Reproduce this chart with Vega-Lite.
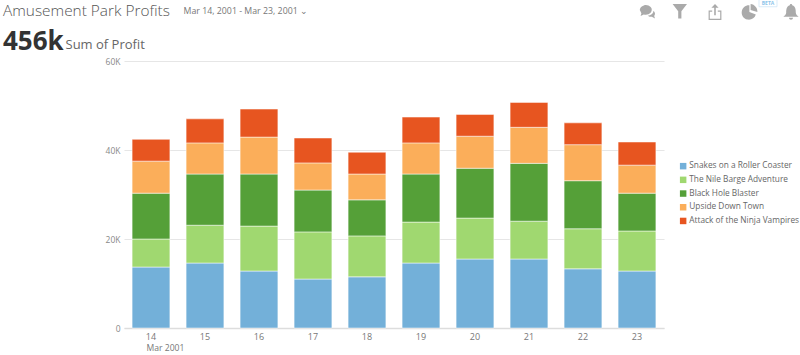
{
"$schema":"https://vega.github.io/schema/vega-lite/v6.json",
"width":540,"height":267,
"autosize":{"type":"none"},
"padding":{"left":124,"top":61,"right":136,"bottom":27},
"background":"white",
"config":{"font":"Open Sans","view":{"stroke":null}},
"title":{"text":"Amusement Park Profits","subtitle":"456k","anchor":"start","frame":"group","dx":-121,"offset":-57,"fontSize":15.4,"fontWeight":300,"color":"#555555","subtitleFont":"Open Sans","subtitleFontSize":26,"subtitleFontWeight":700,"subtitleColor":"#333333","subtitlePadding":10},
"datasets":{
"profits":[
{"day":"14","ride":"Snakes on a Roller Coaster","rank":1,"profit":13700},{"day":"14","ride":"The Nile Barge Adventure","rank":2,"profit":6300},{"day":"14","ride":"Black Hole Blaster","rank":3,"profit":10300},{"day":"14","ride":"Upside Down Town","rank":4,"profit":7200},{"day":"14","ride":"Attack of the Ninja Vampires","rank":5,"profit":4900},
{"day":"15","ride":"Snakes on a Roller Coaster","rank":1,"profit":14600},{"day":"15","ride":"The Nile Barge Adventure","rank":2,"profit":8500},{"day":"15","ride":"Black Hole Blaster","rank":3,"profit":11500},{"day":"15","ride":"Upside Down Town","rank":4,"profit":7000},{"day":"15","ride":"Attack of the Ninja Vampires","rank":5,"profit":5400},
{"day":"16","ride":"Snakes on a Roller Coaster","rank":1,"profit":12800},{"day":"16","ride":"The Nile Barge Adventure","rank":2,"profit":10100},{"day":"16","ride":"Black Hole Blaster","rank":3,"profit":11700},{"day":"16","ride":"Upside Down Town","rank":4,"profit":8300},{"day":"16","ride":"Attack of the Ninja Vampires","rank":5,"profit":6300},
{"day":"17","ride":"Snakes on a Roller Coaster","rank":1,"profit":11000},{"day":"17","ride":"The Nile Barge Adventure","rank":2,"profit":10600},{"day":"17","ride":"Black Hole Blaster","rank":3,"profit":9400},{"day":"17","ride":"Upside Down Town","rank":4,"profit":6100},{"day":"17","ride":"Attack of the Ninja Vampires","rank":5,"profit":5600},
{"day":"18","ride":"Snakes on a Roller Coaster","rank":1,"profit":11500},{"day":"18","ride":"The Nile Barge Adventure","rank":2,"profit":9200},{"day":"18","ride":"Black Hole Blaster","rank":3,"profit":8100},{"day":"18","ride":"Upside Down Town","rank":4,"profit":5800},{"day":"18","ride":"Attack of the Ninja Vampires","rank":5,"profit":4900},
{"day":"19","ride":"Snakes on a Roller Coaster","rank":1,"profit":14600},{"day":"19","ride":"The Nile Barge Adventure","rank":2,"profit":9200},{"day":"19","ride":"Black Hole Blaster","rank":3,"profit":10800},{"day":"19","ride":"Upside Down Town","rank":4,"profit":7000},{"day":"19","ride":"Attack of the Ninja Vampires","rank":5,"profit":5800},
{"day":"20","ride":"Snakes on a Roller Coaster","rank":1,"profit":15500},{"day":"20","ride":"The Nile Barge Adventure","rank":2,"profit":9200},{"day":"20","ride":"Black Hole Blaster","rank":3,"profit":11200},{"day":"20","ride":"Upside Down Town","rank":4,"profit":7200},{"day":"20","ride":"Attack of the Ninja Vampires","rank":5,"profit":4900},
{"day":"21","ride":"Snakes on a Roller Coaster","rank":1,"profit":15500},{"day":"21","ride":"The Nile Barge Adventure","rank":2,"profit":8500},{"day":"21","ride":"Black Hole Blaster","rank":3,"profit":13000},{"day":"21","ride":"Upside Down Town","rank":4,"profit":8100},{"day":"21","ride":"Attack of the Ninja Vampires","rank":5,"profit":5600},
{"day":"22","ride":"Snakes on a Roller Coaster","rank":1,"profit":13300},{"day":"22","ride":"The Nile Barge Adventure","rank":2,"profit":9000},{"day":"22","ride":"Black Hole Blaster","rank":3,"profit":10800},{"day":"22","ride":"Upside Down Town","rank":4,"profit":8100},{"day":"22","ride":"Attack of the Ninja Vampires","rank":5,"profit":4900},
{"day":"23","ride":"Snakes on a Roller Coaster","rank":1,"profit":12800},{"day":"23","ride":"The Nile Barge Adventure","rank":2,"profit":9000},{"day":"23","ride":"Black Hole Blaster","rank":3,"profit":8500},{"day":"23","ride":"Upside Down Town","rank":4,"profit":6300},{"day":"23","ride":"Attack of the Ninja Vampires","rank":5,"profit":5200}
],
"icons":[{"icon":"comments"},{"icon":"filter"},{"icon":"share"},{"icon":"pie","tag":"BETA"},{"icon":"bell"}]
},
"layer":[
{"data":{"name":"profits"},
 "mark":{"type":"bar","stroke":"white","strokeWidth":0.5},
 "encoding":{
  "x":{"field":"day","type":"ordinal","scale":{"paddingInner":0.3,"paddingOuter":0.15},
    "axis":{"title":"Mar 2001","titleX":22,"titleY":19,"titleAlign":"left","titleBaseline":"middle","titleFontSize":8.6,"titleFontWeight":400,"titleColor":"#777777","labelAngle":0,"labelFontSize":9,"labelColor":"#777777","labelPadding":4,"ticks":false,"domainColor":"#dddddd","domainWidth":1.5}},
  "y":{"field":"profit","type":"quantitative","aggregate":"sum","stack":"zero","scale":{"domain":[0,60000]},
    "axis":{"title":"Sum of Profit","titleAngle":0,"titleX":-59,"titleY":-17,"titleAlign":"left","titleBaseline":"middle","titleFontSize":13,"titleFontWeight":400,"titleColor":"#666666","values":[0,20000,40000,60000],"labelExpr":"datum.value==0?'0':datum.value/1000+'K'","labelFontSize":8.5,"labelColor":"#888888","labelPadding":4,"ticks":false,"domain":false,"grid":true,"gridColor":"#e6e6e6","gridWidth":1.2}},
  "color":{"field":"ride","type":"nominal","scale":{"domain":["Snakes on a Roller Coaster","The Nile Barge Adventure","Black Hole Blaster","Upside Down Town","Attack of the Ninja Vampires"],"range":["#73b0d9","#a0d870","#55a038","#fbae5a","#e75520"]},
    "legend":{"title":null,"orient":"none","legendX":555,"legendY":101,"symbolType":"square","symbolSize":42,"symbolStrokeWidth":0,"rowPadding":4.7,"labelFontSize":8.3,"labelColor":"#666666","labelLimit":200,"labelOffset":2}},
  "order":{"field":"rank","type":"quantitative"}
 }},
{"data":{"name":"icons"},
 "layer":[
 {"mark":{"type":"point","filled":true,"size":256,"opacity":1},
  "encoding":{
   "x":{"field":"icon","type":"nominal","sort":null,"scale":{"domain":["comments","filter","share","pie","bell"],"range":[523,667],"padding":0},
    "axis":{"orient":"top","title":"Mar 14, 2001 - Mar 23, 2001 ⌄","titleX":59,"titleY":-51,"titleAlign":"left","titleBaseline":"middle","titleFontSize":8.8,"titleFontWeight":400,"titleColor":"#777777","labels":false,"ticks":false,"domain":false,"grid":false}},
   "y":{"datum":71000,"type":"quantitative"},
   "color":{"value":"#aaaaaa"},
   "shape":{"field":"icon","type":"nominal","legend":null,"scale":{"domain":["comments","filter","share","pie","bell"],"range":[
    "M-0.9,-0.25 A0.75,0.6 0 1 1 -0.4,0.3 L-0.8,0.5 L-0.7,0.15 Z M0.35,0.4 A0.65,0.55 0 0 0 0.8,-0.15 A0.6,0.5 0 0 1 0.9,0.5 L1,0.8 L0.6,0.6 A0.7,0.6 0 0 1 0.1,0.45 Z",
    "M-1.3,-1 L0.5,-1 L-0.2,-0.1 L-0.2,0.8 L-0.6,0.8 L-0.6,-0.1 Z",
    "M-1.3,-0.2 L-0.85,-0.2 L-0.85,-0.05 L-1.15,-0.05 L-1.15,0.85 L0.15,0.85 L0.15,-0.05 L-0.15,-0.05 L-0.15,-0.2 L0.3,-0.2 L0.3,1 L-1.3,1 Z M-0.5,-1 L-0.05,-0.55 L-0.4,-0.55 L-0.4,0.4 L-0.6,0.4 L-0.6,-0.55 L-0.95,-0.55 Z",
    "M-0.7,-0.85 L-0.7,0 L0.1,0.3 A0.9,0.9 0 1 1 -0.7,-0.85 Z M-0.55,-1 A0.95,0.95 0 0 1 0.3,0 L-0.55,-0.25 Z",
    "M0,-1 A0.15,0.15 0 0 1 0.15,-0.85 C0.6,-0.7 0.6,-0.2 0.6,0.1 C0.6,0.35 0.85,0.5 0.95,0.6 L-0.95,0.6 C-0.85,0.5 -0.6,0.35 -0.6,0.1 C-0.6,-0.2 -0.6,-0.7 -0.15,-0.85 A0.15,0.15 0 0 1 0,-1 Z M-0.25,0.7 L0.25,0.7 A0.25,0.25 0 0 1 -0.25,0.7 Z"
   ]}}
  }},
 {"transform":[{"filter":"datum.tag"}],
  "mark":{"type":"text","fontSize":5,"fontWeight":700,"color":"#8cc4ea","xOffset":13},
  "encoding":{"x":{"field":"icon","type":"nominal","sort":null},"y":{"datum":73000,"type":"quantitative"},"text":{"field":"tag"}}},
 {"transform":[{"filter":"datum.tag"}],
  "mark":{"type":"point","filled":false,"size":324,"opacity":1,"stroke":"#cfe6f7","strokeWidth":0.8,"xOffset":13,"shape":"M-1,-0.4 L1,-0.4 L1,0.4 L-1,0.4 Z"},
  "encoding":{"x":{"field":"icon","type":"nominal","sort":null},"y":{"datum":73000,"type":"quantitative"}}}
 ]}
],
"resolve":{"scale":{"x":"independent","color":"independent","shape":"independent"},"axis":{"x":"independent"}}
}
